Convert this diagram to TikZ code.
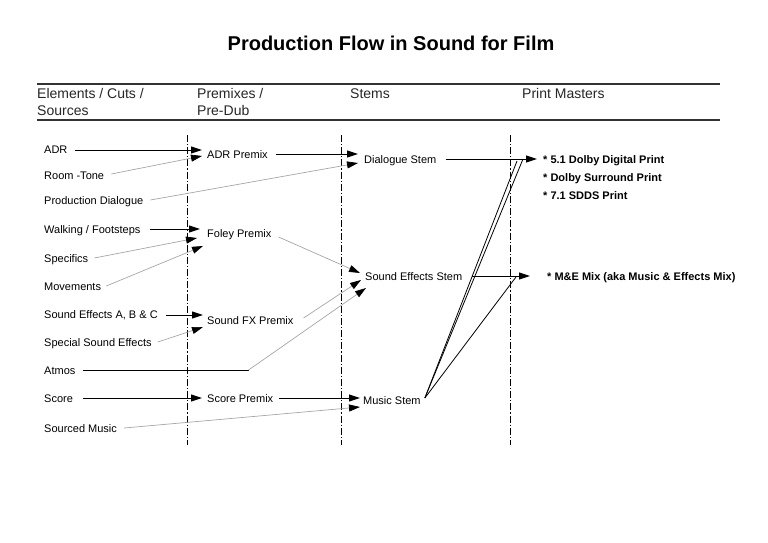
\documentclass[tikz,border=0pt]{standalone}
\usepackage{fontspec}
\setmainfont{Liberation Sans}
\usetikzlibrary{arrows.meta,calc}
\begin{document}
\begin{tikzpicture}[x=1pt,y=-1pt,
  lbl/.style={anchor=base west,inner sep=0pt,text height=8pt,text depth=0pt,font=\fontsize{11}{13}\selectfont},
  pm/.style={anchor=base west,inner sep=0pt,text height=8pt,text depth=0pt,font=\bfseries\fontsize{11}{13}\selectfont},
  hdr/.style={anchor=base west,inner sep=0pt,font=\fontsize{14}{16}\selectfont,text=black!85},
  blk/.style={draw=black,line width=1pt,-{Triangle[length=11pt,width=7pt]}},
  gry/.style={draw=black!35,line width=0.7pt,-{Triangle[length=11pt,width=7pt,color=black]}},
  thin/.style={draw=black,line width=0.8pt},
  col/.style={draw=black,line width=0.9pt,dash pattern=on 7pt off 2pt on 1.2pt off 2pt},
  rule/.style={draw=black!80,line width=1.3pt}]
\path[use as bounding box] (0,0) rectangle (768,543);

% title
\node[font=\bfseries\fontsize{20}{24}\selectfont] (title) at (391,43) {Production Flow in Sound for Film};

% header
\draw[rule] (37,84) -- (720,84);
\draw[rule] (37,120) -- (720,120);
\node[hdr] (h1a) at (37,99) {Elements / Cuts /};
\node[hdr] (h1b) at (37,115) {Sources};
\node[hdr] (h2a) at (197,99) {Premixes /};
\node[hdr] (h2b) at (197,115) {Pre-Dub};
\node[hdr] (h3) at (350,99) {Stems};
\node[hdr] (h4) at (522,99) {Print Masters};

% column separators
\draw[col] (187,135) -- (187,445);
\draw[col] (341,135) -- (341,445);
\draw[col] (510,135) -- (510,445);

% elements
\node[lbl] (adr) at (44,153) {ADR};
\node[lbl] (room) at (44,179) {Room -Tone};
\node[lbl] (prod) at (44,204) {Production Dialogue};
\node[lbl] (walk) at (44,233) {Walking / Footsteps};
\node[lbl] (spec) at (44,262) {Specifics};
\node[lbl] (move) at (44,290) {Movements};
\node[lbl] (sfxabc) at (44,318) {Sound Effects A, B \& C};
\node[lbl] (special) at (44,346) {Special Sound Effects};
\node[lbl] (atmos) at (44,374) {Atmos};
\node[lbl] (score) at (44,402) {Score};
\node[lbl] (sourced) at (44,432) {Sourced Music};

% premixes
\node[lbl] (adrp) at (207,158) {ADR Premix};
\node[lbl] (foleyp) at (207,237) {Foley Premix};
\node[lbl] (sfxp) at (207,324) {Sound FX Premix};
\node[lbl] (scorep) at (207,402) {Score Premix};

% stems
\node[lbl] (dstem) at (364,163) {Dialogue Stem};
\node[lbl] (sestem) at (365,280) {Sound Effects Stem};
\node[lbl] (mstem) at (363,404) {Music Stem};

% print masters
\node[pm] (p51) at (543,163) {* 5.1 Dolby Digital Print};
\node[pm] (pds) at (543,181) {* Dolby Surround Print};
\node[pm] (p71) at (543,199) {* 7.1 SDDS Print};
\node[pm] (me) at (547,280) {* M\&E Mix (aka Music \& Effects Mix)};

% connectors: elements -> premixes / stems
\draw[blk] ($(adr.east)+(7,1)$) -- ($(adrp.west |- adr.east)+(-5,1)$);
\draw[gry] ($(room.east)+(7,-1)$) -- ($(adrp.west)+(-5,2)$);
\draw[gry] ($(prod.east)+(7,0)$) -- ($(dstem.west)+(-6,4)$);
\draw[blk] ($(walk.east)+(9,0)$) -- ($(foleyp.west |- walk.east)+(-7,0)$);
\draw[gry] ($(spec.east)+(6,0)$) -- ($(foleyp.west)+(-10,5)$);
\draw[gry] ($(move.east)+(5,0)$) -- ($(foleyp.west)+(-4,13)$);
\draw[blk] ($(sfxabc.east)+(8,1)$) -- ($(sfxp.west |- sfxabc.east)+(-4,1)$);
\draw[gry] ($(special.east)+(6,0)$) -- ($(sfxp.west)+(-4,7)$);
\coordinate (abend) at ($(atmos.east)+(173,0)$);
\draw[thin,line width=1pt] ($(atmos.east)+(7,0)$) -- (abend);
\draw[gry] (abend) -- ($(sestem.west)+(1,12)$);
\draw[blk] ($(score.east)+(10,0)$) -- ($(scorep.west |- score.east)+(-5,0)$);
\draw[gry] ($(sourced.east)+(7,0)$) -- ($(mstem.west)+(-3,7)$);

% premixes -> stems
\draw[blk] ($(adrp.east)+(8,0)$) -- ($(dstem.west |- adrp.east)+(-6,0)$);
\draw[gry] ($(foleyp.east)+(7,4)$) -- ($(sestem.west)+(-5,-3)$);
\draw[gry] ($(sfxp.east)+(10,-2)$) -- ($(sestem.west)+(-4,4)$);
\draw[blk] ($(scorep.east)+(6,0)$) -- ($(mstem.west |- scorep.east)+(-3,0)$);

% stems -> print masters
\draw[blk] ($(dstem.east)+(9,0)$) -- ($(p51.west |- dstem.east)+(-6,0)$);
\draw[blk] ($(sestem.east)+(10,0)$) -- ($(me.west |- sestem.east)+(-17,0)$);
\draw[thin] ($(mstem.east)+(4,-2)$) -- ($(p51.west)+(-20,0)$);
\draw[thin] ($(mstem.east)+(4,-2)$) -- ($(p51.west)+(-26,2)$);
\draw[thin] ($(mstem.east)+(4,-2)$) -- ($(me.west)+(-31,1)$);
\end{tikzpicture}
\end{document}
